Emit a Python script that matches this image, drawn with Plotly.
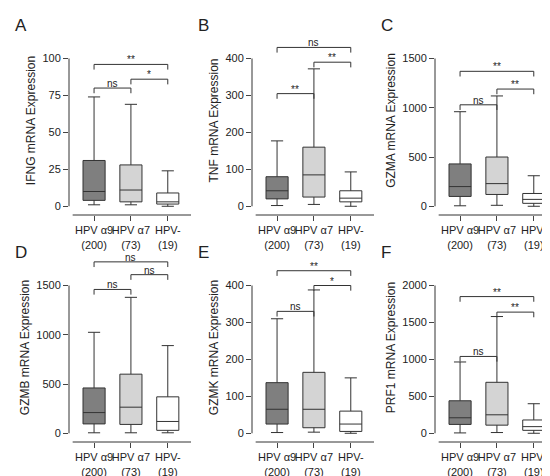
import plotly.graph_objects as go

cats = ["HPV α9<br>(200)", "HPV α7<br>(73)", "HPV-<br>(19)"]
colors = ["#7f7f7f", "#d4d4d4", "#ffffff"]
letters = ["A", "B", "C", "D", "E", "F"]
ylabels = ["IFNG mRNA Expression", "TNF mRNA Expression", "GZMA mRNA Expression",
           "GZMB mRNA Expression", "GZMK mRNA Expression", "PRF1 mRNA Expression"]
ticktops = [100, 400, 1500, 1500, 400, 2000]
tickstep = [25, 100, 500, 500, 100, 500]
# per panel: [min, q1, median, q3, max] for α9, α7, HPV-
stats = [
    [[1, 4, 10, 31, 74], [1, 3, 11, 28, 69], [0, 1.5, 3, 9, 24]],
    [[2, 20, 42, 80, 177], [5, 25, 85, 160, 372], [0, 12, 22, 42, 93]],
    [[5, 100, 200, 430, 960], [10, 120, 230, 500, 1120], [0, 30, 70, 130, 310]],
    [[5, 95, 210, 460, 1025], [5, 90, 265, 600, 1380], [5, 30, 120, 370, 890]],
    [[2, 25, 65, 137, 310], [3, 15, 65, 165, 388], [0, 5, 25, 60, 150]],
    [[5, 120, 210, 440, 965], [10, 110, 250, 690, 1580], [0, 40, 90, 180, 400]],
]
# brackets: (i, j, height, label)
brackets = [
    [(0, 1, 80, "ns"), (1, 2, 86, "*"), (0, 2, 96, "**")],
    [(0, 1, 305, "**"), (1, 2, 390, "**"), (0, 2, 430, "ns")],
    [(0, 1, 1030, "ns"), (1, 2, 1190, "**"), (0, 2, 1370, "**")],
    [(0, 1, 1460, "ns"), (1, 2, 1610, "ns"), (0, 2, 1740, "ns")],
    [(0, 1, 330, "ns"), (1, 2, 400, "*"), (0, 2, 440, "**")],
    [(0, 1, 1040, "ns"), (1, 2, 1640, "**"), (0, 2, 1850, "**")],
]

W, H = 550, 476
colx = [(61, 183), (244, 366), (427, 549)]
rowy = [(18, 207), (245, 434)]
font = dict(family="Liberation Sans, Arial", color="#222", size=11)
fig = go.Figure()
shapes, annos = [], []
for p in range(6):
    r, c = divmod(p, 3)
    n = "" if p == 0 else str(p + 1)
    xa, ya = "x" + n, "y" + n
    T = ticktops[p]
    x0, x1 = colx[c]; y0, y1 = rowy[r]
    fig.layout["xaxis" + n] = dict(domain=[x0 / W, x1 / W], range=[-0.68, 2.63],
        tickvals=[0, 1, 2], ticktext=cats, ticks="outside", ticklen=5, showgrid=False,
        zeroline=False, showline=False, anchor=ya, tickangle=0, tickfont=dict(size=11),
        automargin=False)
    fig.layout["yaxis" + n] = dict(domain=[1 - y1 / H, 1 - y0 / H], range=[-0.059 * T, 1.22 * T],
        tickvals=list(range(0, T + 1, tickstep[p])), ticks="outside", ticklen=5, showgrid=False,
        zeroline=False, showline=False, anchor=xa, automargin=False,
        title=dict(text=ylabels[p], font=dict(size=12), standoff=4))
    shapes.append(dict(type="line", xref=xa + " domain", yref=ya, x0=0, x1=0, y0=0, y1=T,
                       line=dict(color="#333", width=1)))
    shapes.append(dict(type="line", xref=xa + " domain", yref=ya + " domain", x0=0.03, x1=1, y0=0, y1=0,
                       line=dict(color="#333", width=1)))
    for i, s in enumerate(stats[p]):
        fig.add_trace(go.Box(x=[i], lowerfence=[s[0]], q1=[s[1]], median=[s[2]], q3=[s[3]],
            upperfence=[s[4]], fillcolor=colors[i], line=dict(color="#333", width=1),
            width=0.6, whiskerwidth=0.55, xaxis=xa, yaxis=ya, showlegend=False, hoverinfo="skip"))
    d = 0.035 * T
    for (i, j, h, lab) in brackets[p]:
        shapes.append(dict(type="path", xref=xa, yref=ya,
            path=f"M {i} {h-d} L {i} {h} L {j} {h} L {j} {h-d}", line=dict(color="#333", width=1)))
        annos.append(dict(x=(i + j) / 2, y=h, xref=xa, yref=ya, text=lab, showarrow=False,
                          yanchor="bottom", yshift=-3, font=dict(size=10, color="#222")))
    annos.append(dict(x=(x0 - 56) / W, y=1 - (y0 - 12) / H, xref="paper", yref="paper", text=letters[p],
                      showarrow=False, xanchor="left", yanchor="top", font=dict(size=17, color="#222")))
fig.update_layout(width=W, height=H, margin=dict(l=0, r=0, t=0, b=0), plot_bgcolor="white",
                  paper_bgcolor="white", font=font, shapes=shapes, annotations=annos)
fig.write_html("out.html")
